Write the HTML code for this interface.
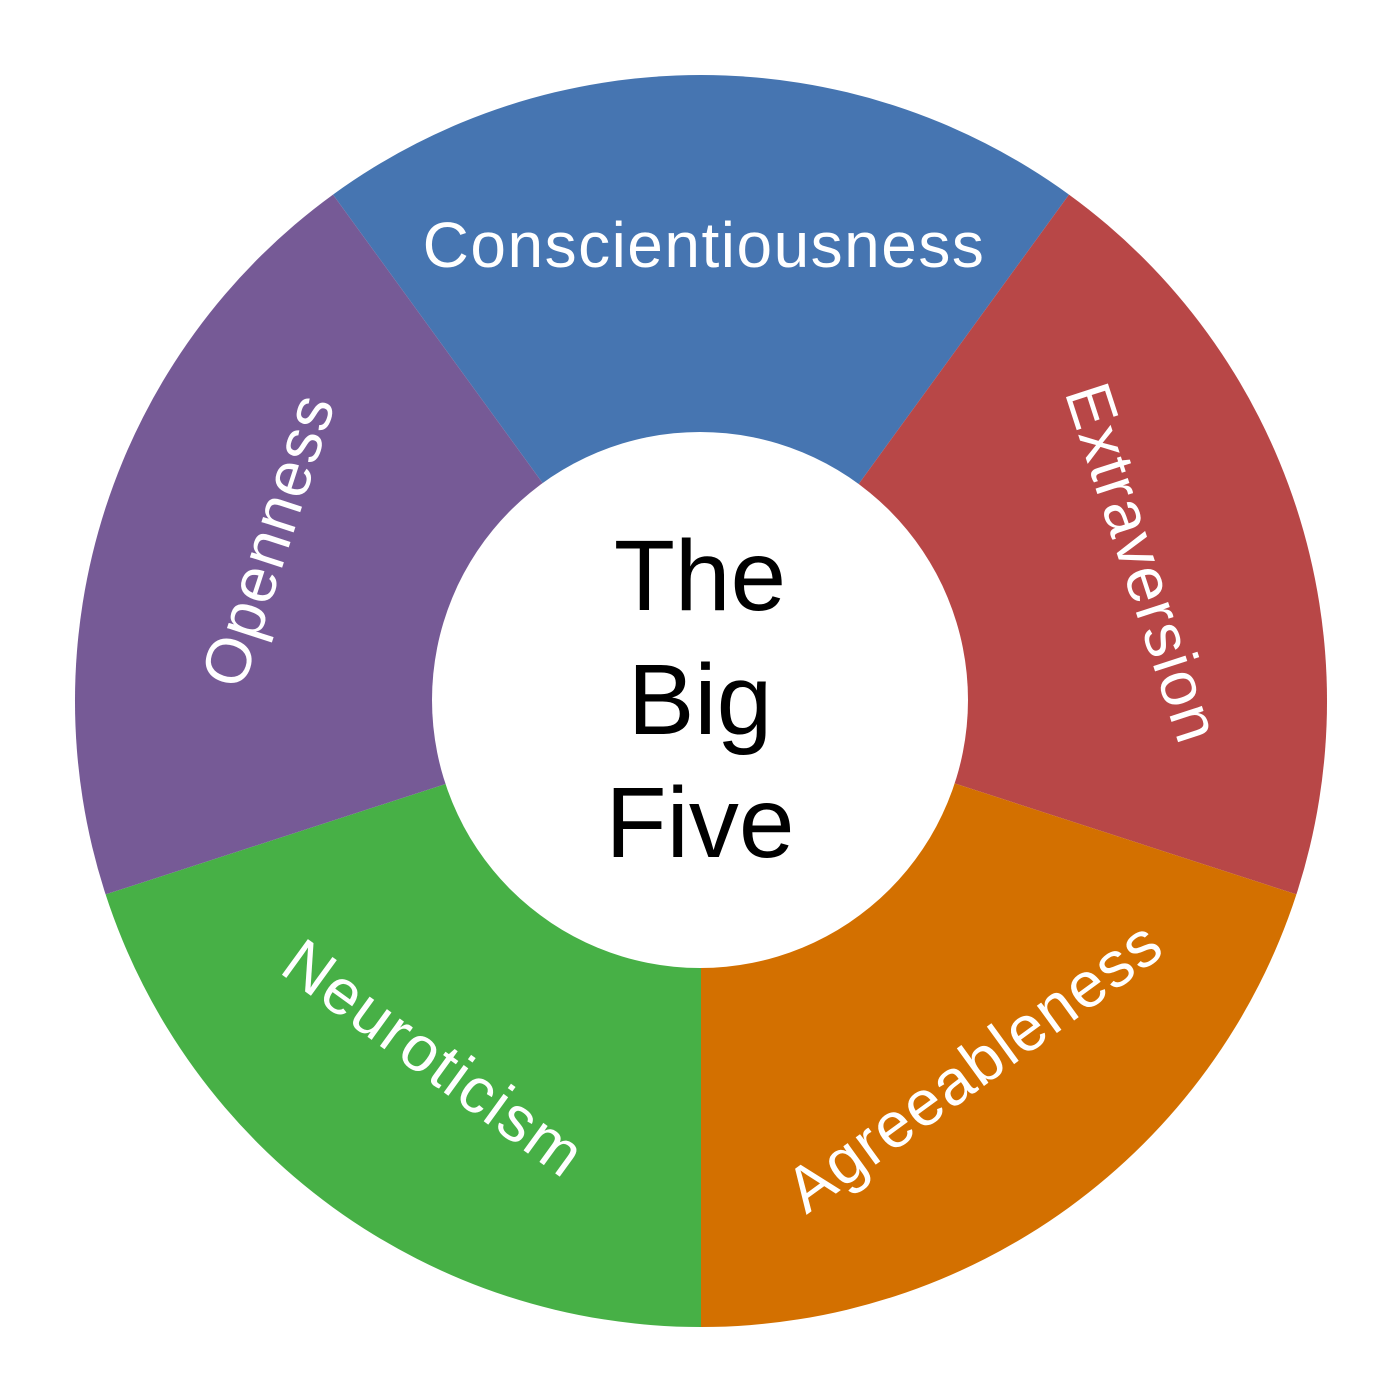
<!DOCTYPE html>
<html><head><meta charset="utf-8"><style>
html,body{margin:0;padding:0;background:#fff;}
svg{display:block;}
text{font-family:"Liberation Sans",sans-serif;}
</style></head><body>
<svg width="1400" height="1400" viewBox="0 0 1400 1400" xmlns="http://www.w3.org/2000/svg">
<path d="M701,701 L333,194.6 A626,626 0 0 1 1069,194.6 Z" fill="#4675B1"/>
<path d="M701,701 L1069,194.6 A626,626 0 0 1 1296.4,894.4 Z" fill="#B84747"/>
<path d="M701,701 L1296.4,894.4 A626,626 0 0 1 701,1327 Z" fill="#D37000"/>
<path d="M701,701 L701,1327 A626,626 0 0 1 105.6,894.4 Z" fill="#47B046"/>
<path d="M701,701 L105.6,894.4 A626,626 0 0 1 333,194.6 Z" fill="#765A96"/>
<circle cx="700" cy="700" r="268" fill="#fff"/>
<g fill="#fff" font-size="64" letter-spacing="1.5" text-anchor="middle" dominant-baseline="central">
<text x="704" y="245">Conscientiousness</text>
<text transform="translate(1143,563) rotate(72)">Extraversion</text>
<text transform="translate(974,1066) rotate(-36)">Agreeableness</text>
<text transform="translate(434,1058) rotate(36)">Neuroticism</text>
<text transform="translate(268,540) rotate(-72)">Openness</text>
</g>
<g fill="#000" font-size="100" text-anchor="middle">
<text x="700" y="610">The</text>
<text x="700" y="734">Big</text>
<text x="700" y="857">Five</text>
</g>
</svg>
</body></html>
